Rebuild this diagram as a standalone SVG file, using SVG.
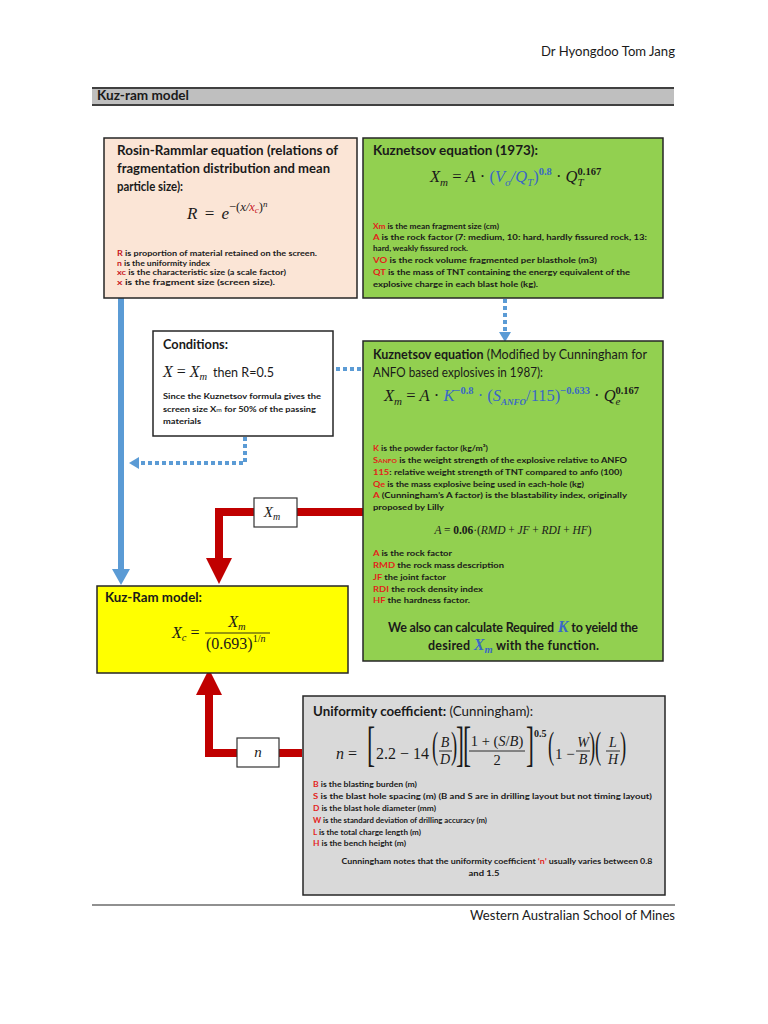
<svg xmlns="http://www.w3.org/2000/svg" width="768" height="1024" viewBox="0 0 768 1024">
<style>
.f{font-family:Lato,"Liberation Sans",sans-serif;fill:#1a1a1a}
.h{font-size:12.5px;font-weight:bold}
.sm{font-size:8.3px;font-weight:bold}
.r{fill:#e3231b}
.dr{fill:#c8161d}
.m{font-family:"Liberation Serif","DejaVu Serif",serif;font-style:italic;fill:#1a1a1a}
.up{font-style:normal}
.bl{fill:#3a68c6}
.box{stroke:#262626;stroke-width:1.5}
.red{fill:none;stroke:#c00000;stroke-width:8}
.blu{fill:none;stroke:#5b9bd5;stroke-width:6}
.dot{fill:none;stroke:#5b9bd5;stroke-width:4;stroke-dasharray:4 3}
.lbl{fill:#fff;stroke:#333;stroke-width:1.2}
.bar{stroke:#1a1a1a;stroke-width:0.9}
</style>
<defs>
<marker id="ar" markerUnits="userSpaceOnUse" viewBox="0 -14 28 28" markerWidth="28" markerHeight="28" refX="0" refY="0" orient="auto"><path d="M0,-13 L26,0 L0,13 z" fill="#c00000"/></marker>
<marker id="ab" markerUnits="userSpaceOnUse" viewBox="0 -10 18 20" markerWidth="18" markerHeight="20" refX="0" refY="0" orient="auto"><path d="M0,-9 L16,0 L0,9 z" fill="#5b9bd5"/></marker>
<marker id="ad" markerUnits="userSpaceOnUse" viewBox="0 -7 12 14" markerWidth="12" markerHeight="14" refX="0" refY="0" orient="auto"><path d="M0,-6 L10,0 L0,6 z" fill="#5b9bd5"/></marker>
</defs>
<rect width="768" height="1024" fill="#fff"/>

<g id="header">
<text class="f" x="675" y="56" font-size="12.5" text-anchor="end" textLength="134" lengthAdjust="spacingAndGlyphs">Dr Hyongdoo Tom Jang</text>
<rect x="92" y="88" width="582" height="17" fill="#bfbfbf"/>
<line x1="92" y1="88" x2="674" y2="88" stroke="#404040" stroke-width="2"/>
<line x1="92" y1="105" x2="674" y2="105" stroke="#404040" stroke-width="2"/>
<text class="f h" x="97" y="100" textLength="92" lengthAdjust="spacingAndGlyphs">Kuz-ram model</text>
</g>

<g id="connectors">
<path class="blu" d="M121,298 V569" marker-end="url(#ab)"/>
<path class="dot" d="M505,299 V332" marker-end="url(#ad)"/>
<path class="dot" d="M336,369 H363"/>
<path class="dot" d="M245,437 V463 H139" marker-end="url(#ad)"/>
<path class="red" d="M363,512 H219 V558" marker-end="url(#ar)"/>
<path class="red" d="M302,753 H209 V695" marker-end="url(#ar)"/>
</g>

<g id="rosin">
<rect class="box" x="104" y="138" width="253" height="160" fill="#fbe5d6"/>
<text class="f h" x="117" y="155" textLength="221" lengthAdjust="spacingAndGlyphs">Rosin-Rammlar equation (relations of</text>
<text class="f h" x="117" y="173" textLength="213" lengthAdjust="spacingAndGlyphs">fragmentation distribution and mean</text>
<text class="f h" x="117" y="191" textLength="66" lengthAdjust="spacingAndGlyphs">particle size):</text>
<text class="m" x="187" y="219" font-size="17">R <tspan class="up" dx="3">=</tspan> <tspan dx="3">e</tspan><tspan font-size="12.5" dy="-8"><tspan class="up">−(</tspan>x/<tspan class="dr">x</tspan></tspan><tspan font-size="9" dy="2" class="dr">c</tspan><tspan font-size="12.5" dy="-2" class="up">)</tspan><tspan font-size="9" dy="-4">n</tspan></text>
<text class="f sm" x="117" y="256" textLength="200" lengthAdjust="spacingAndGlyphs"><tspan class="dr">R</tspan> is proportion of material retained on the screen.</text>
<text class="f sm" x="117" y="266" textLength="93" lengthAdjust="spacingAndGlyphs"><tspan class="dr">n</tspan> is the uniformity index</text>
<text class="f sm" x="117" y="275" textLength="169" lengthAdjust="spacingAndGlyphs"><tspan class="dr">xc</tspan> is the characteristic size (a scale factor)</text>
<text class="f sm" x="117" y="285" textLength="158" lengthAdjust="spacingAndGlyphs"><tspan class="dr">x</tspan> is the fragment size (screen size).</text>
</g>

<g id="kuznetsov1973">
<rect class="box" x="363" y="138" width="300" height="160" fill="#92d050"/>
<text class="f h" x="373" y="155" textLength="165" lengthAdjust="spacingAndGlyphs">Kuznetsov equation (1973):</text>
<text class="m" x="430" y="182" font-size="16.5">X<tspan font-size="11" dy="4">m</tspan><tspan dy="-4" class="up"> = </tspan>A<tspan class="up"> · </tspan><tspan class="bl"><tspan class="up">(</tspan>V<tspan font-size="11" dy="4">o</tspan><tspan dy="-4">/Q</tspan><tspan font-size="11" dy="4">T</tspan><tspan dy="-4" class="up">)</tspan><tspan font-size="10.5" dy="-7" class="up" font-weight="bold">0.8</tspan></tspan><tspan dy="7" class="up"> · </tspan>Q<tspan font-size="11" dy="4">T</tspan><tspan font-size="10.5" dy="-11" dx="-6" class="up" font-weight="bold">0.167</tspan></text>
<text class="f sm" x="373" y="229" textLength="126" lengthAdjust="spacingAndGlyphs"><tspan class="r">Xm</tspan> is the mean fragment size (cm)</text>
<text class="f sm" x="373" y="240" textLength="274" lengthAdjust="spacingAndGlyphs"><tspan class="r">A</tspan> is the rock factor (7: medium, 10: hard, hardly fissured rock, 13:</text>
<text class="f sm" x="373" y="251" textLength="95" lengthAdjust="spacingAndGlyphs">hard, weakly fissured rock.</text>
<text class="f sm" x="373" y="263" textLength="224" lengthAdjust="spacingAndGlyphs"><tspan class="r">VO</tspan> is the rock volume fragmented per blasthole (m3)</text>
<text class="f sm" x="373" y="275" textLength="257" lengthAdjust="spacingAndGlyphs"><tspan class="r">QT</tspan> is the mass of TNT containing the energy equivalent of the</text>
<text class="f sm" x="373" y="287" textLength="165" lengthAdjust="spacingAndGlyphs">explosive charge in each blast hole (kg).</text>
</g>

<g id="conditions">
<rect class="box" x="153" y="331" width="180" height="105" fill="#fff"/>
<text class="f h" x="163" y="349" textLength="65" lengthAdjust="spacingAndGlyphs">Conditions:</text>
<text class="m" x="163" y="377" font-size="16">X <tspan class="up">=</tspan> X<tspan font-size="10.5" dy="3">m</tspan></text>
<text class="f" x="213" y="377" font-size="13" textLength="61" lengthAdjust="spacingAndGlyphs">then R=0.5</text>
<text class="f sm" x="163" y="399" textLength="158" lengthAdjust="spacingAndGlyphs">Since the Kuznetsov formula gives the</text>
<text class="f sm" x="163" y="412" textLength="153" lengthAdjust="spacingAndGlyphs">screen size X<tspan font-size="6" font-weight="normal">m</tspan> for 50% of the passing</text>
<text class="f sm" x="163" y="424" textLength="38" lengthAdjust="spacingAndGlyphs">materials</text>
</g>

<g id="kuznetsovModified">
<rect class="box" x="363" y="341" width="300" height="320" fill="#92d050"/>
<text class="f" x="373" y="359" font-size="12.5" textLength="274" lengthAdjust="spacingAndGlyphs"><tspan font-weight="bold">Kuznetsov equation</tspan> (Modified by Cunningham for</text>
<text class="f" x="373" y="377" font-size="12.5" textLength="170" lengthAdjust="spacingAndGlyphs">ANFO based explosives in 1987):</text>
<text class="m" x="384" y="401" font-size="16.5">X<tspan font-size="11" dy="4">m</tspan><tspan dy="-4" class="up"> = </tspan>A<tspan class="up"> · </tspan><tspan class="bl">K<tspan font-size="10.5" dy="-7" class="up" font-weight="bold">−0.8</tspan><tspan dy="7" class="up"> · (</tspan>S<tspan font-size="9" dy="4" font-weight="bold">ANFO</tspan><tspan dy="-4" class="up">/115)</tspan><tspan font-size="10.5" dy="-7" class="up" font-weight="bold">−0.633</tspan></tspan><tspan dy="7" class="up"> · </tspan>Q<tspan font-size="11" dy="4">e</tspan><tspan font-size="10.5" dy="-11" dx="-5" class="up" font-weight="bold">0.167</tspan></text>
<text class="f sm" x="373" y="451" textLength="115" lengthAdjust="spacingAndGlyphs"><tspan class="r">K</tspan> is the powder factor (kg/m³)</text>
<text class="f sm" x="373" y="463" textLength="254" lengthAdjust="spacingAndGlyphs"><tspan class="r">S<tspan font-size="6">ANFO</tspan></tspan> is the weight strength of the explosive relative to ANFO</text>
<text class="f sm" x="373" y="475" textLength="249" lengthAdjust="spacingAndGlyphs"><tspan class="r">115</tspan>: relative weight strength of TNT compared to anfo (100)</text>
<text class="f sm" x="373" y="487" textLength="211" lengthAdjust="spacingAndGlyphs"><tspan class="r">Qe</tspan> is the mass explosive being used in each-hole (kg)</text>
<text class="f sm" x="373" y="498" textLength="254" lengthAdjust="spacingAndGlyphs"><tspan class="r">A</tspan> (Cunningham’s A factor) is the blastability index, originally</text>
<text class="f sm" x="373" y="510" textLength="71" lengthAdjust="spacingAndGlyphs">proposed by Lilly</text>
<text class="m" x="513" y="534" font-size="11.5" text-anchor="middle" textLength="157">A <tspan class="up">=</tspan> <tspan class="up" font-weight="bold">0.06</tspan><tspan class="up">·(</tspan>RMD <tspan class="up">+</tspan> JF <tspan class="up">+</tspan> RDI <tspan class="up">+</tspan> HF<tspan class="up">)</tspan></text>
<text class="f sm" x="373" y="556" textLength="79" lengthAdjust="spacingAndGlyphs"><tspan class="r">A</tspan> is the rock factor</text>
<text class="f sm" x="373" y="568" textLength="131" lengthAdjust="spacingAndGlyphs"><tspan class="r">RMD</tspan> the rock mass description</text>
<text class="f sm" x="373" y="580" textLength="73" lengthAdjust="spacingAndGlyphs"><tspan class="r">JF</tspan> the joint factor</text>
<text class="f sm" x="373" y="592" textLength="110" lengthAdjust="spacingAndGlyphs"><tspan class="r">RDI</tspan> the rock density index</text>
<text class="f sm" x="373" y="603" textLength="97" lengthAdjust="spacingAndGlyphs"><tspan class="r">HF</tspan> the hardness factor.</text>
<text class="f h" x="388" y="632" textLength="250">We also can calculate Required <tspan class="m bl" font-size="16" dx="1">K</tspan><tspan dx="3">to yeield the</tspan></text>
<text class="f h" x="428" y="650" textLength="171">desired <tspan class="m bl" font-size="16">X</tspan><tspan class="m bl" font-size="10.5" dy="3">m</tspan><tspan dy="-3" dx="3">with the function.</tspan></text>
</g>

<g id="kuzram">
<rect class="box" x="97" y="586" width="251" height="87" fill="#ffff00"/>
<text class="f h" x="105" y="602" textLength="97" lengthAdjust="spacingAndGlyphs">Kuz-Ram model:</text>
<text class="m" x="172" y="638" font-size="16">X<tspan font-size="10.5" dy="3">c</tspan><tspan dy="-3" class="up"> =</tspan></text>
<text class="m" x="237" y="627" font-size="16" text-anchor="middle">X<tspan font-size="10.5" dy="3">m</tspan></text>
<line class="bar" x1="205" y1="633" x2="270" y2="633"/>
<text class="m up" x="206" y="649" font-size="16">(0.693)<tspan font-size="10" dy="-7">1/<tspan font-style="italic">n</tspan></tspan></text>
</g>

<g id="xm-label">
<rect class="lbl" x="254" y="498" width="43" height="29"/>
<text class="m" x="272" y="517" font-size="15" text-anchor="middle">X<tspan font-size="10" dy="3">m</tspan></text>
</g>

<g id="n-label">
<rect class="lbl" x="237" y="738" width="42" height="29"/>
<text class="m" x="258" y="757" font-size="15" text-anchor="middle">n</text>
</g>

<g id="uniformity">
<rect class="box" x="303" y="696" width="362" height="199" fill="#d9d9d9"/>
<text class="f" x="313" y="716" font-size="12.5" textLength="220" lengthAdjust="spacingAndGlyphs"><tspan font-weight="bold">Uniformity coefficient:</tspan> (Cunningham):</text>
<text class="m" x="336" y="759" font-size="16">n <tspan class="up">=</tspan></text>
<text class="m up" transform="translate(367,760) scale(0.5,1)" font-size="48">[</text>
<text class="m up" x="376" y="759" font-size="16">2.2 − 14</text>
<text class="m up" transform="translate(432,758) scale(0.5,1)" font-size="37">(</text>
<text class="m" x="445" y="747" font-size="14" text-anchor="middle">B</text>
<line class="bar" x1="439" y1="751" x2="452" y2="751"/>
<text class="m" x="445" y="764" font-size="14" text-anchor="middle">D</text>
<text class="m up" transform="translate(451,758) scale(0.5,1)" font-size="37">)</text>
<text class="m up" transform="translate(456,760) scale(0.5,1)" font-size="48">]</text>
<text class="m up" transform="translate(463,760) scale(0.5,1)" font-size="48">[</text>
<text class="m up" x="497" y="746" font-size="14.5" text-anchor="middle">1 + (<tspan font-style="italic">S</tspan>/<tspan font-style="italic">B</tspan>)</text>
<line class="bar" x1="469" y1="751" x2="525" y2="751"/>
<text class="m up" x="497" y="765" font-size="14.5" text-anchor="middle">2</text>
<text class="m up" transform="translate(526,760) scale(0.5,1)" font-size="48">]</text>
<text class="m up" x="534" y="737" font-size="10" font-weight="bold">0.5</text>
<text class="m up" transform="translate(548,758) scale(0.5,1)" font-size="37">(</text>
<text class="m up" x="555" y="759" font-size="15">1 −</text>
<text class="m" x="583" y="747" font-size="14" text-anchor="middle">W</text>
<line class="bar" x1="576" y1="751" x2="590" y2="751"/>
<text class="m" x="583" y="764" font-size="14" text-anchor="middle">B</text>
<text class="m up" transform="translate(589,758) scale(0.5,1)" font-size="37">)</text>
<text class="m up" transform="translate(595,758) scale(0.5,1)" font-size="37">(</text>
<text class="m" x="613" y="747" font-size="14" text-anchor="middle">L</text>
<line class="bar" x1="606" y1="751" x2="620" y2="751"/>
<text class="m" x="613" y="764" font-size="14" text-anchor="middle">H</text>
<text class="m up" transform="translate(620,758) scale(0.5,1)" font-size="37">)</text>
<text class="f sm" x="313" y="787" textLength="104" lengthAdjust="spacingAndGlyphs"><tspan class="r">B</tspan> is the blasting burden (m)</text>
<text class="f sm" x="313" y="799" textLength="339" lengthAdjust="spacingAndGlyphs"><tspan class="r">S</tspan> is the blast hole spacing (m) (B and S are in drilling layout but not timing layout)</text>
<text class="f sm" x="313" y="811" textLength="123" lengthAdjust="spacingAndGlyphs"><tspan class="r">D</tspan> is the blast hole diameter (mm)</text>
<text class="f sm" x="313" y="823" textLength="174" lengthAdjust="spacingAndGlyphs"><tspan class="r">W</tspan> is the standard deviation of drilling accuracy (m)</text>
<text class="f sm" x="313" y="835" textLength="108" lengthAdjust="spacingAndGlyphs"><tspan class="r">L</tspan> is the total charge length (m)</text>
<text class="f sm" x="313" y="846" textLength="93" lengthAdjust="spacingAndGlyphs"><tspan class="r">H</tspan> is the bench height (m)</text>
<text class="f sm" x="497" y="864" text-anchor="middle" textLength="311" lengthAdjust="spacingAndGlyphs">Cunningham notes that the uniformity coefficient <tspan class="r">‘n’</tspan> usually varies between 0.8</text>
<text class="f sm" x="484" y="876" text-anchor="middle" textLength="31" lengthAdjust="spacingAndGlyphs">and 1.5</text>
</g>

<g id="footer">
<line x1="92" y1="905" x2="675" y2="905" stroke="#222" stroke-width="1.2"/>
<text class="f" x="675" y="920" font-size="12.5" text-anchor="end" textLength="205" lengthAdjust="spacingAndGlyphs">Western Australian School of Mines</text>
</g>
</svg>
